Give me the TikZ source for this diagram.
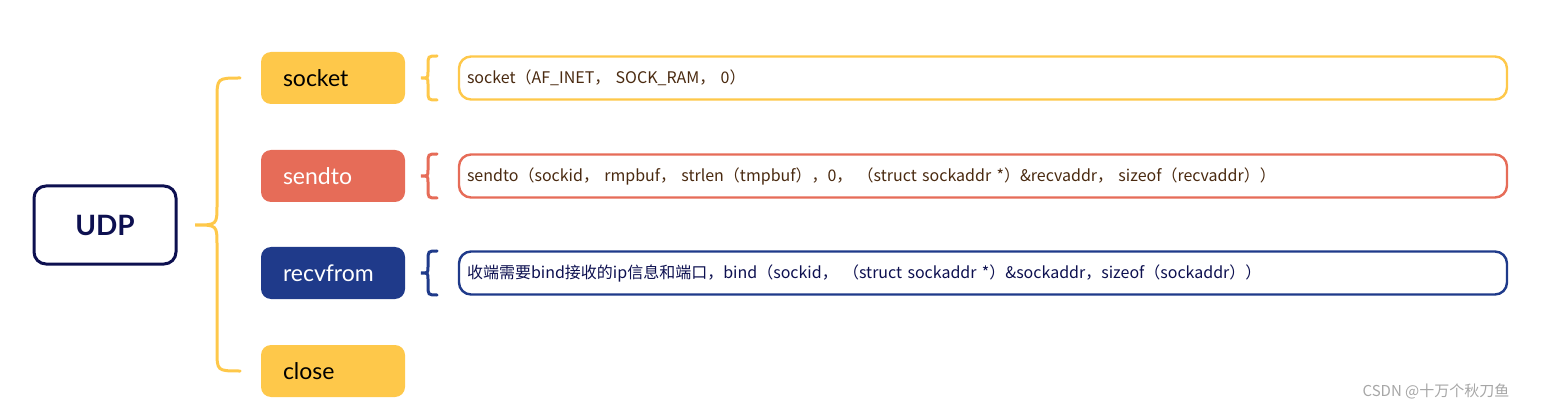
\documentclass[tikz,border=0pt]{standalone}
\usepackage{fontspec}
\setmainfont{Lato}
\newfontfamily\cjk{Noto Sans CJK SC}
\definecolor{navy}{HTML}{0D1050}
\definecolor{gold}{HTML}{FEC84A}
\definecolor{coral}{HTML}{E66C58}
\definecolor{royal}{HTML}{1F3A8A}
\definecolor{ink}{HTML}{4A2A10}
\tikzset{
  topic/.style={rounded corners=5pt,inner xsep=11pt,text width=50pt,align=left,minimum height=26pt,font=\fontsize{11.5}{13}\selectfont,text=black},
  detail/.style={draw,line width=1.2pt,rounded corners=6pt,fill=white,minimum width=524pt,minimum height=21.5pt,text width=516pt,align=left,font=\cjk\fontsize{8}{9}\selectfont},
  brace/.style={line width=1.5pt,line cap=round}
}
\begin{document}
\begin{tikzpicture}[x=0.5pt,y=-0.5pt]
  \useasboundingbox (0,0) rectangle (1546,411);
  \node (udp) at (105,225) [draw=navy,line width=1.5pt,rounded corners=6pt,minimum width=71pt,minimum height=39pt,font=\bfseries\fontsize{14}{16}\selectfont,text=navy] {UDP};
  \node (socket) at (333,78) [topic,fill=gold] {socket};
  \node (sendto) at (333,176) [topic,fill=coral,text=white] {sendto};
  \node (recvfrom) at (333,273) [topic,fill=royal,text=white] {recvfrom};
  \node (close) at (333,371) [topic,fill=gold] {close};
  \node (dsocket) at (983,78) [detail,draw=gold,text=ink] {socket（AF\_INET，\ SOCK\_RAM，\ 0）};
  \node (dsendto) at (983,176) [detail,draw=coral,text=ink] {sendto（sockid，\ rmpbuf，\ strlen（tmpbuf），0，\ （struct sockaddr *）\&recvaddr，\ sizeof（recvaddr））};
  \node (drecv) at (983,273) [detail,draw=royal,text=navy] {收端需要bind接收的ip信息和端口，bind（sockid，\ （struct sockaddr *）\&sockaddr，sizeof（sockaddr））};
  \node (mark) at (1436,391) [font=\cjk\fontsize{7.5}{9}\selectfont,text=gray!70] {CSDN @十万个秋刀鱼};
  \coordinate (tip) at (195,225);
  % big brace
  \draw [brace,gold] (240,78) .. controls (217,78) .. (217,100) -- (217,205)
    .. controls (217,225) .. (tip) .. controls (217,225) .. (217,245) -- (217,350)
    .. controls (217,371) .. (240,371);
  % small braces
  \foreach \n/\y/\c in {socket/78/gold,sendto/176/coral,recvfrom/273/royal}{
    \draw [brace,\c] (437,\y-22) .. controls (428,\y-22) .. (428,\y-12) -- (428,\y-6)
      .. controls (428,\y) .. (421,\y) .. controls (428,\y) .. (428,\y+6) -- (428,\y+12)
      .. controls (428,\y+22) .. (437,\y+22);
  }
\end{tikzpicture}
\end{document}
